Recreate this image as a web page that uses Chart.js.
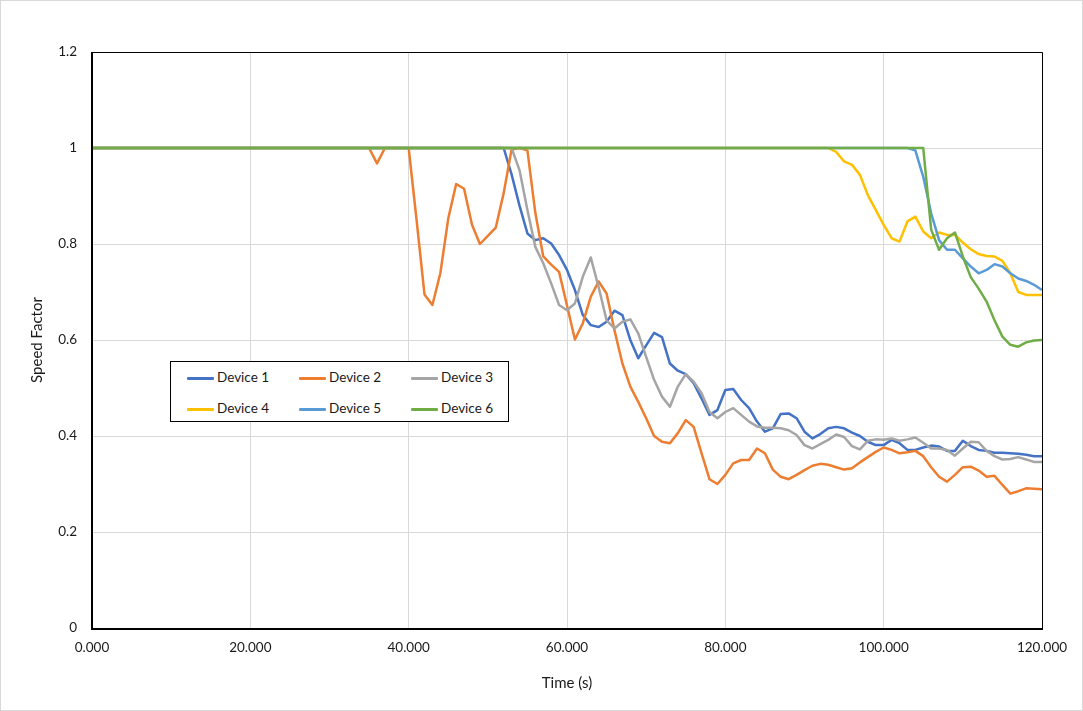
<!DOCTYPE html>
<html>
<head>
<meta charset="utf-8">
<title>Speed Factor</title>
<script src="https://cdn.jsdelivr.net/npm/chart.js@4.4.1/dist/chart.umd.min.js"></script>
<style>
  html, body { margin: 0; padding: 0; background: #fff; }
  #wrap { position: relative; width: 1083px; height: 711px; }
  #legend {
    position: absolute; left: 170px; top: 361px; width: 337px; height: 59px;
    border: 1px solid #000; background: #fff;
    font-family: Lato, "Liberation Sans", sans-serif; font-size: 13.5px; color: #1a1a1a;
  }
  #legend .item { position: absolute; height: 16px; line-height: 16px; white-space: nowrap; }
  #legend .swatch { display: inline-block; width: 27px; height: 3px; vertical-align: middle; margin-right: 3px; border-radius: 1px; }
</style>
</head>
<body>
<div id="wrap">
  <canvas id="speedChart" width="1083" height="711"></canvas>
  <div id="legend"></div>
</div>
<script>
// time axis (thousands of s), one sample per step
const times = [
  0, 1, 2, 3, 4, 5, 6, 7, 8, 9,
  10, 11, 12, 13, 14, 15, 16, 17, 18, 19,
  20, 21, 22, 23, 24, 25, 26, 27, 28, 29,
  30, 31, 32, 33, 34, 35, 36, 37, 38, 39,
  40, 41, 42, 43, 44, 45, 46, 47, 48, 49,
  50, 51, 52, 53, 54, 55, 56, 57, 58, 59,
  60, 61, 62, 63, 64, 65, 66, 67, 68, 69,
  70, 71, 72, 73, 74, 75, 76, 77, 78, 79,
  80, 81, 82, 83, 84, 85, 86, 87, 88, 89,
  90, 91, 92, 93, 94, 95, 96, 97, 98, 99,
  100, 101, 102, 103, 104, 105, 106, 107, 108, 109,
  110, 111, 112, 113, 114, 115, 116, 117, 118, 119,
  120
];

const device1 = [
  1, 1, 1, 1, 1, 1, 1, 1, 1, 1,
  1, 1, 1, 1, 1, 1, 1, 1, 1, 1,
  1, 1, 1, 1, 1, 1, 1, 1, 1, 1,
  1, 1, 1, 1, 1, 1, 1, 1, 1, 1,
  1, 1, 1, 1, 1, 1, 1, 1, 1, 1,
  1, 1, 1, 0.945, 0.88, 0.822, 0.808, 0.812, 0.801, 0.777,
  0.746, 0.704, 0.652, 0.631, 0.627, 0.638, 0.661, 0.652, 0.600, 0.562,
  0.589, 0.615, 0.606, 0.551, 0.536, 0.529, 0.510, 0.478, 0.444, 0.454,
  0.496, 0.498, 0.475, 0.458, 0.430, 0.409, 0.416, 0.446, 0.447, 0.437,
  0.409, 0.395, 0.404, 0.416, 0.419, 0.416, 0.407, 0.400, 0.388, 0.381,
  0.381, 0.392, 0.385, 0.371, 0.371, 0.376, 0.380, 0.378, 0.369, 0.369,
  0.390, 0.379, 0.371, 0.369, 0.365, 0.365, 0.364, 0.363, 0.361, 0.358,
  0.358
];

const device2 = [
  1, 1, 1, 1, 1, 1, 1, 1, 1, 1,
  1, 1, 1, 1, 1, 1, 1, 1, 1, 1,
  1, 1, 1, 1, 1, 1, 1, 1, 1, 1,
  1, 1, 1, 1, 1, 1, 0.968, 1, 1, 1,
  1, 0.85, 0.695, 0.673, 0.739, 0.853, 0.925, 0.915, 0.84, 0.80,
  0.817, 0.834, 0.906, 0.997, 1, 0.995, 0.865, 0.774, 0.757, 0.742,
  0.672, 0.601, 0.635, 0.69, 0.722, 0.697, 0.62, 0.551, 0.503, 0.471,
  0.437, 0.40, 0.388, 0.385, 0.406, 0.433, 0.419, 0.364, 0.31, 0.30,
  0.319, 0.343, 0.35, 0.35, 0.374, 0.364, 0.33, 0.315, 0.31, 0.319,
  0.329, 0.338, 0.342, 0.34, 0.335, 0.33, 0.333, 0.345, 0.356, 0.367,
  0.376, 0.371, 0.364, 0.366, 0.369, 0.358, 0.335, 0.315, 0.305, 0.319,
  0.335, 0.336, 0.328, 0.315, 0.317, 0.298, 0.28, 0.285, 0.291, 0.29,
  0.289
];

const device3 = [
  1, 1, 1, 1, 1, 1, 1, 1, 1, 1,
  1, 1, 1, 1, 1, 1, 1, 1, 1, 1,
  1, 1, 1, 1, 1, 1, 1, 1, 1, 1,
  1, 1, 1, 1, 1, 1, 1, 1, 1, 1,
  1, 1, 1, 1, 1, 1, 1, 1, 1, 1,
  1, 1, 1, 1, 0.954, 0.871, 0.794, 0.76, 0.718, 0.673,
  0.662, 0.676, 0.732, 0.772, 0.71, 0.641, 0.624, 0.638, 0.643, 0.614,
  0.565, 0.517, 0.482, 0.461, 0.503, 0.529, 0.513, 0.489, 0.45, 0.437,
  0.45, 0.458, 0.444, 0.43, 0.42, 0.417, 0.417, 0.416, 0.412, 0.402,
  0.381, 0.374, 0.383, 0.392, 0.403, 0.398, 0.379, 0.372, 0.39, 0.393,
  0.392, 0.395, 0.39, 0.393, 0.397, 0.386, 0.374, 0.374, 0.371, 0.359,
  0.374, 0.388, 0.387, 0.369, 0.358, 0.351, 0.352, 0.356, 0.351, 0.346,
  0.346
];

const device4 = [
  1, 1, 1, 1, 1, 1, 1, 1, 1, 1,
  1, 1, 1, 1, 1, 1, 1, 1, 1, 1,
  1, 1, 1, 1, 1, 1, 1, 1, 1, 1,
  1, 1, 1, 1, 1, 1, 1, 1, 1, 1,
  1, 1, 1, 1, 1, 1, 1, 1, 1, 1,
  1, 1, 1, 1, 1, 1, 1, 1, 1, 1,
  1, 1, 1, 1, 1, 1, 1, 1, 1, 1,
  1, 1, 1, 1, 1, 1, 1, 1, 1, 1,
  1, 1, 1, 1, 1, 1, 1, 1, 1, 1,
  1, 1, 1, 1, 0.992, 0.972, 0.965, 0.944, 0.902, 0.871,
  0.84, 0.812, 0.805, 0.847, 0.857, 0.826, 0.812, 0.824, 0.819, 0.819,
  0.803, 0.789, 0.779, 0.775, 0.774, 0.765, 0.739, 0.70, 0.694, 0.694,
  0.694
];

const device5 = [
  1, 1, 1, 1, 1, 1, 1, 1, 1, 1,
  1, 1, 1, 1, 1, 1, 1, 1, 1, 1,
  1, 1, 1, 1, 1, 1, 1, 1, 1, 1,
  1, 1, 1, 1, 1, 1, 1, 1, 1, 1,
  1, 1, 1, 1, 1, 1, 1, 1, 1, 1,
  1, 1, 1, 1, 1, 1, 1, 1, 1, 1,
  1, 1, 1, 1, 1, 1, 1, 1, 1, 1,
  1, 1, 1, 1, 1, 1, 1, 1, 1, 1,
  1, 1, 1, 1, 1, 1, 1, 1, 1, 1,
  1, 1, 1, 1, 1, 1, 1, 1, 1, 1,
  1, 1, 1, 1, 0.995, 0.94, 0.864, 0.808, 0.788, 0.788,
  0.77, 0.753, 0.739, 0.746, 0.758, 0.753, 0.739, 0.728, 0.723, 0.715,
  0.704
];

const device6 = [
  1, 1, 1, 1, 1, 1, 1, 1, 1, 1,
  1, 1, 1, 1, 1, 1, 1, 1, 1, 1,
  1, 1, 1, 1, 1, 1, 1, 1, 1, 1,
  1, 1, 1, 1, 1, 1, 1, 1, 1, 1,
  1, 1, 1, 1, 1, 1, 1, 1, 1, 1,
  1, 1, 1, 1, 1, 1, 1, 1, 1, 1,
  1, 1, 1, 1, 1, 1, 1, 1, 1, 1,
  1, 1, 1, 1, 1, 1, 1, 1, 1, 1,
  1, 1, 1, 1, 1, 1, 1, 1, 1, 1,
  1, 1, 1, 1, 1, 1, 1, 1, 1, 1,
  1, 1, 1, 1, 1, 1, 0.83, 0.788, 0.812, 0.824,
  0.774, 0.731, 0.707, 0.68, 0.641, 0.607, 0.59, 0.586, 0.595, 0.599,
  0.6
];

const seriesNames = ["Device 1", "Device 2", "Device 3", "Device 4", "Device 5", "Device 6"];
const seriesValues = [device1, device2, device3, device4, device5, device6];
const seriesColors = ["#4472C4", "#ED7D31", "#A5A5A5", "#FFC000", "#5B9BD5", "#70AD47"];

const xTickLabels = ["0.000", "20.000", "40.000", "60.000", "80.000", "100.000", "120.000"];
const yTickLabels = ["0", "0.2", "0.4", "0.6", "0.8", "1", "1.2"];

const FONT = "Lato, 'Liberation Sans', sans-serif";
const TEXT = "#1a1a1a";
const GRID = "#d9d9d9";

// frame: white background, outer grey border, plot box
const framePlugin = {
  id: "frame",
  beforeDraw(chart) {
    const ctx = chart.ctx;
    ctx.save();
    ctx.fillStyle = "#fff";
    ctx.fillRect(0, 0, chart.width, chart.height);
    ctx.restore();
  },
  afterDatasetsDraw(chart) {
    const { ctx, chartArea: a } = chart;
    ctx.save();
    ctx.strokeStyle = "#000";
    ctx.lineWidth = 1;
    ctx.beginPath();
    ctx.moveTo(a.left, a.top + 0.5);
    ctx.lineTo(a.right + 0.5, a.top + 0.5);
    ctx.lineTo(a.right + 0.5, a.bottom);
    ctx.stroke();
    ctx.lineWidth = 2;
    ctx.beginPath();
    ctx.moveTo(a.left, a.top);
    ctx.lineTo(a.left, a.bottom + 1);
    ctx.lineTo(a.right + 1, a.bottom + 1);
    ctx.stroke();
    ctx.strokeStyle = GRID;
    ctx.lineWidth = 1;
    ctx.strokeRect(0.5, 0.5, chart.width - 1, chart.height - 1);
    ctx.restore();
  }
};

const ctx = document.getElementById("speedChart").getContext("2d");
new Chart(ctx, {
  type: "line",
  data: {
    labels: times,
    datasets: seriesNames.map((name, i) => ({
      label: name,
      data: times.map((t, k) => ({ x: t, y: seriesValues[i][k] })),
      borderColor: seriesColors[i],
      backgroundColor: seriesColors[i],
      borderWidth: 2.5,
      borderJoinStyle: "round",
      borderCapStyle: "butt",
      pointRadius: 0,
      tension: 0,
      fill: false,
      order: seriesNames.length - i
    }))
  },
  options: {
    responsive: false,
    animation: false,
    events: [],
    layout: { padding: { top: 52, right: 41, left: 0, bottom: 0 } },
    plugins: {
      legend: { display: false },
      tooltip: { enabled: false }
    },
    scales: {
      x: {
        type: "linear",
        min: 0,
        max: 120,
        afterFit(scale) { scale.height = 83; },
        grid: { color: GRID, lineWidth: 1, drawTicks: false },
        border: { display: false },
        ticks: {
          stepSize: 20,
          padding: 12,
          maxRotation: 0,
          color: TEXT,
          font: { family: FONT, size: 13.5 },
          callback: (v) => xTickLabels[Math.round(v / 20)]
        },
        title: {
          display: true,
          text: "Time (s)",
          color: TEXT,
          font: { family: FONT, size: 15 },
          padding: { top: 0, bottom: 19 }
        }
      },
      y: {
        min: 0,
        max: 1.2,
        afterFit(scale) { scale.width = 92; },
        grid: { color: GRID, lineWidth: 1, drawTicks: false },
        border: { display: false },
        ticks: {
          stepSize: 0.2,
          padding: 15,
          color: TEXT,
          font: { family: FONT, size: 13.5 },
          callback: (v) => yTickLabels[Math.round(v / 0.2)]
        },
        title: {
          display: true,
          text: "Speed Factor",
          color: TEXT,
          font: { family: FONT, size: 15 },
          padding: { top: 28, bottom: 0 }
        }
      }
    }
  },
  plugins: [framePlugin]
});

// legend box inside the plot, built from the series lists
const legendEl = document.getElementById("legend");
const colX = [16, 128, 240];
const rowY = [7, 38];
seriesNames.forEach((name, i) => {
  const item = document.createElement("div");
  item.className = "item";
  item.style.left = colX[i % 3] + "px";
  item.style.top = rowY[Math.floor(i / 3)] + "px";
  const sw = document.createElement("span");
  sw.className = "swatch";
  sw.style.background = seriesColors[i];
  item.appendChild(sw);
  item.appendChild(document.createTextNode(name));
  legendEl.appendChild(item);
});
</script>
</body>
</html>
